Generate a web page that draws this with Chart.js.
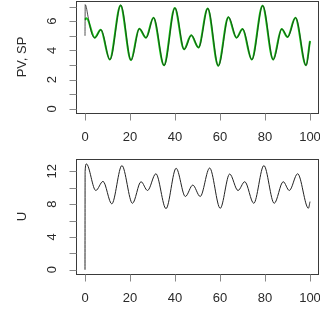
<!DOCTYPE html>
<html>
<head>
<meta charset="utf-8">
<script src="https://cdn.jsdelivr.net/npm/chart.js@4/dist/chart.umd.min.js"></script>
<style>
html,body{margin:0;padding:0;background:#fff;width:320px;height:320px;overflow:hidden;}
canvas{position:absolute;left:0;}
#c1{top:0;}
#c2{top:150px;}
</style>
</head>
<body>
<canvas id="c1" width="320" height="150"></canvas>
<canvas id="c2" width="320" height="170"></canvas>
<script>
// ---- data ----
const spX = [0, 0.7, 4.3, 7.0, 11.0, 15.8, 20.4, 24.1, 27.1, 30.4, 35.1, 39.9, 44.0, 47.2, 50.4, 54.5, 59.2, 63.7, 67.3, 70.0, 74.1, 78.9, 83.6, 87.4, 90.0, 93.5, 98.2, 100];
const spY = [6.1, 6.2, 4.87, 5.41, 3.38, 7.08, 3.34, 5.48, 4.87, 6.23, 2.98, 6.9, 4.08, 5.03, 4.2, 6.86, 2.96, 6.27, 4.87, 5.46, 3.38, 7.06, 3.38, 5.46, 4.92, 6.23, 2.98, 4.65];

const pvX = [0, 0.1, 1.5, 3.0, 4.4, 7.1, 11.1, 15.9, 20.5, 24.2, 27.2, 30.5, 35.2, 40.0, 44.1, 47.3, 50.5, 54.6, 59.3, 63.8, 67.4, 70.1, 74.2, 79.0, 83.7, 87.5, 90.1, 93.6, 98.3, 100];
const pvY = [5.0, 7.13, 6.2, 5.15, 4.86, 5.42, 3.36, 7.11, 3.32, 5.49, 4.86, 6.25, 2.96, 6.92, 4.06, 5.04, 4.19, 6.88, 2.94, 6.29, 4.86, 5.47, 3.36, 7.08, 3.36, 5.47, 4.91, 6.25, 2.96, 4.6];

const uX = [0, 0.05, 0.6, 4.8, 8.0, 11.9, 16.4, 21.1, 24.9, 27.8, 31.5, 36.0, 40.5, 44.6, 47.9, 51.2, 55.4, 60.1, 64.3, 68.0, 71.0, 75.0, 79.5, 84.1, 88.1, 90.8, 94.5, 99.3, 100];
const uY = [0, 12.0, 12.9, 9.66, 10.77, 8.03, 12.7, 8.1, 10.73, 9.66, 11.7, 7.45, 12.37, 8.93, 10.32, 8.93, 12.4, 7.49, 11.67, 9.66, 10.73, 8.1, 12.7, 8.1, 10.73, 9.66, 11.7, 7.5, 8.3];

const xTicks = [0, 20, 40, 60, 80, 100];
const topYTicks = [0, 1, 2, 3, 4, 5, 6, 7];
const topYLabels = [0, 2, 4, 6];
const botYTicks = [0, 2, 4, 6, 8, 10, 12];
const botYLabels = [0, 4, 8, 12];

const FONT = '13px "Liberation Sans", Arial, sans-serif';

function pts(xs, ys){ return xs.map((x,i)=>({x:x, y:ys[i]})); }

function rAxesPlugin(yTicks, yLabels, title){
  return {
    id: 'raxes',
    afterDraw(chart){
      const ctx = chart.ctx, a = chart.chartArea;
      const xs = chart.scales.x, ys = chart.scales.y;
      ctx.save();
      ctx.strokeStyle = '#3a3a3a';
      ctx.lineWidth = 1;
      ctx.strokeRect(Math.round(a.left)+0.5, Math.round(a.top)+0.5, Math.round(a.right-a.left)-1, Math.round(a.bottom-a.top));
      ctx.strokeStyle = '#888';
      ctx.beginPath();
      const yb = Math.round(a.bottom)+0.5;
      xTicks.forEach(v=>{
        const px = Math.round(xs.getPixelForValue(v))+0.5;
        ctx.moveTo(px, yb); ctx.lineTo(px, yb+7);
      });
      const xl = Math.round(a.left)+0.5;
      yTicks.forEach(v=>{
        const py = Math.round(ys.getPixelForValue(v))+0.5;
        ctx.moveTo(xl, py); ctx.lineTo(xl-7, py);
      });
      ctx.stroke();
      ctx.fillStyle = '#2a2a2a';
      ctx.font = FONT;
      ctx.textAlign = 'center';
      ctx.textBaseline = 'middle';
      xTicks.forEach(v=>{
        ctx.fillText(String(v), xs.getPixelForValue(v), a.bottom + 24);
      });
      yLabels.forEach(v=>{
        ctx.save();
        ctx.translate(a.left - 24, ys.getPixelForValue(v));
        ctx.rotate(-Math.PI/2);
        ctx.fillText(String(v), 0, 0);
        ctx.restore();
      });
      ctx.save();
      ctx.translate(22, (a.top + a.bottom)/2);
      ctx.rotate(-Math.PI/2);
      ctx.fillText(title, 0, 0);
      ctx.restore();
      ctx.restore();
    }
  };
}

const common = {
  responsive: false,
  animation: false,
  events: [],
  plugins: { legend: {display:false}, tooltip: {enabled:false} },
  elements: { point: { radius: 0 } }
};

new Chart(document.getElementById('c1'), {
  type: 'line',
  data: {
    datasets: [
      { label: 'PV', data: pts(pvX, pvY), borderColor: '#222', borderWidth: 0.8, cubicInterpolationMode: 'monotone', fill: false },
      { label: 'SP', data: pts(spX, spY), borderColor: '#10cc10', borderWidth: 2, cubicInterpolationMode: 'monotone', fill: false }
    ]
  },
  options: Object.assign({}, common, {
    layout: { padding: { left: 76, right: 1, top: 1, bottom: 37 } },
    scales: {
      x: { type: 'linear', min: -4, max: 104, display: false },
      y: { type: 'linear', min: -0.28, max: 7.38, display: false }
    }
  }),
  plugins: [rAxesPlugin(topYTicks, topYLabels, 'PV, SP')]
});

new Chart(document.getElementById('c2'), {
  type: 'line',
  data: {
    datasets: [
      { label: 'U', data: pts(uX, uY), borderColor: '#222', borderWidth: 1, cubicInterpolationMode: 'monotone', fill: false }
    ]
  },
  options: Object.assign({}, common, {
    layout: { padding: { left: 76, right: 1, top: 9, bottom: 46 } },
    scales: {
      x: { type: 'linear', min: -4, max: 104, display: false },
      y: { type: 'linear', min: -0.52, max: 13.5, display: false }
    }
  }),
  plugins: [rAxesPlugin(botYTicks, botYLabels, 'U')]
});
</script>
</body>
</html>
